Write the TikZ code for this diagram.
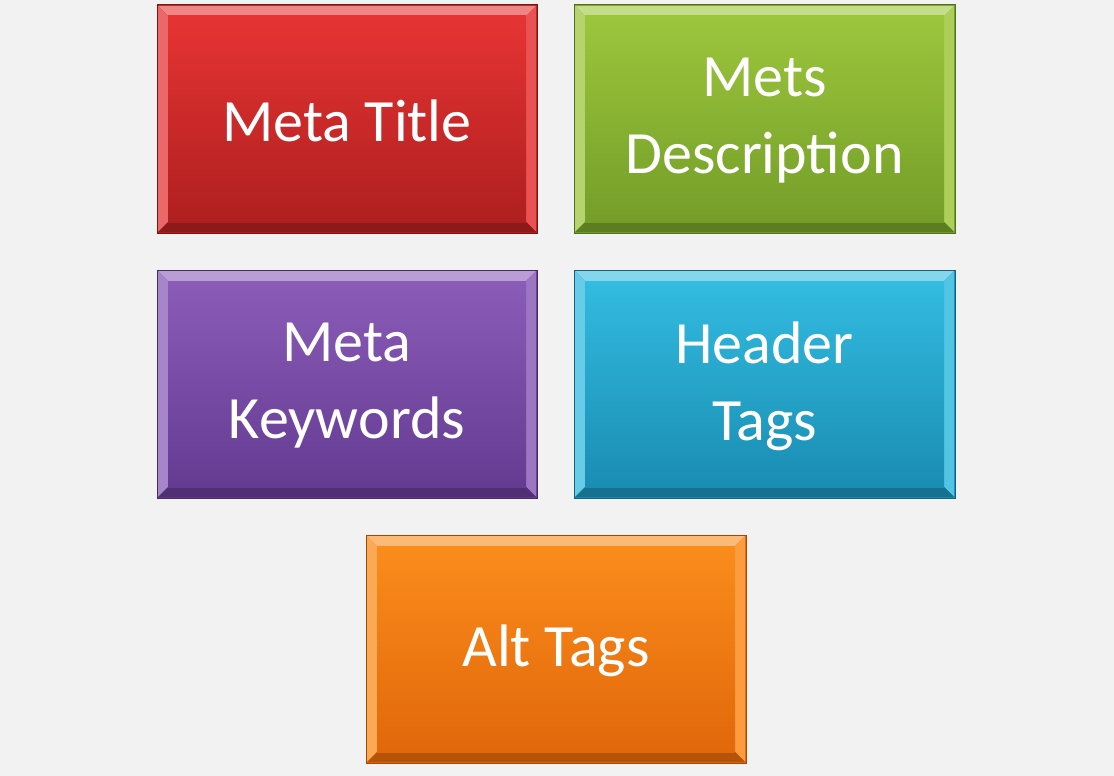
\documentclass[tikz,border=0pt]{standalone}
\usepackage{fontspec}
\setmainfont{Carlito}
\begin{document}
\begin{tikzpicture}[x=1pt,y=-1pt]
\definecolor{bgc}{HTML}{F2F2F2}
\fill[bgc] (0,0) rectangle (1114,776);
\useasboundingbox (0,0) rectangle (1114,776);
\tikzset{
 boxtxt/.style={text=white,font=\fontsize{60}{77}\selectfont,align=center},
}
\newcommand\bbox[6]{% name, x1,y1,x2,y2, colour top/bottom via #6 prefix
 \fill[#6dark] (#2,#3) rectangle (#4,#5);
 \fill[#6light!60!white] (#2+1,#3+1) -- (#4-1,#3+1) -- (#4-11,#3+11) -- (#2+11,#3+11) -- cycle;
 \fill[#6light!75!white] (#2+1,#3+1) -- (#2+11,#3+11) -- (#2+11,#5-11) -- (#2+1,#5-1) -- cycle;
 \fill[#6light!85!white] (#4-1,#3+1) -- (#4-11,#3+11) -- (#4-11,#5-11) -- (#4-1,#5-1) -- cycle;
 \fill[#6dark!80!black] (#2+1,#5-1) -- (#2+11,#5-11) -- (#4-11,#5-11) -- (#4-1,#5-1) -- cycle;
 \shade[top color=#6light,bottom color=#6dark] (#2+11,#3+11) rectangle (#4-11,#5-11);
 \draw[#6dark!70!black,line width=1] (#2,#3) rectangle (#4,#5);
 \node[inner sep=0] (#1) at ({(#2+#4)/2},{(#3+#5)/2}) {};
}
\definecolor{rlight}{HTML}{E63434}\definecolor{rdark}{HTML}{B01F1F}
\definecolor{glight}{HTML}{9CC63C}\definecolor{gdark}{HTML}{749E28}
\definecolor{plight}{HTML}{8A5CB8}\definecolor{pdark}{HTML}{653B92}
\definecolor{blight}{HTML}{33BBE0}\definecolor{bdark}{HTML}{1A8DB3}
\definecolor{olight}{HTML}{FA8C1C}\definecolor{odark}{HTML}{E2680A}
\bbox{red}{157}{5}{537}{233}{r}
\bbox{green}{574}{5}{955}{233}{g}
\bbox{purple}{157}{270}{537}{498}{p}
\bbox{blue}{574}{270}{955}{498}{b}
\bbox{orange}{366}{535}{746}{763}{o}
\node[boxtxt] at ([yshift=-2]red) {Meta Title};
\node[boxtxt] at ([yshift=-2]green) {Mets\\Description};
\node[boxtxt] at ([yshift=-2]purple) {Meta\\Keywords};
\node[boxtxt] at ([yshift=-2]blue) {Header\\Tags};
\node[boxtxt] at ([yshift=-2]orange) {Alt Tags};
\end{tikzpicture}
\end{document}
